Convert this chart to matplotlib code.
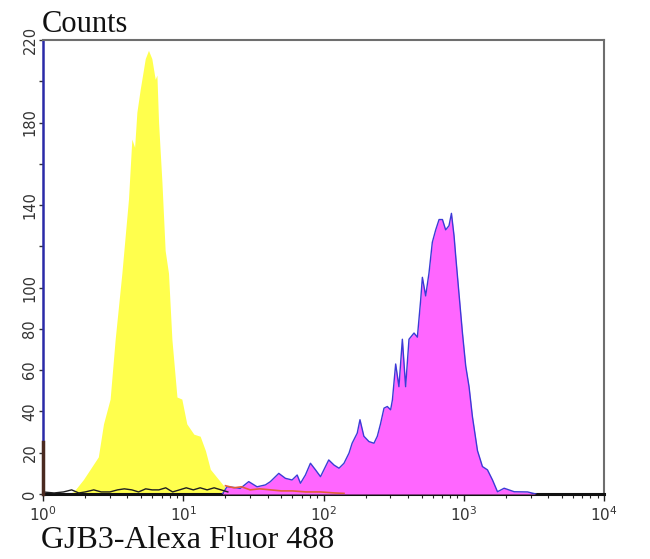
import matplotlib
matplotlib.use("Agg")
import matplotlib.pyplot as plt
import numpy as np

# ---- data ----
yellow_x = [1.40, 1.65, 1.94, 2.17, 2.48, 2.70, 3.01, 3.27, 3.65, 4.07, 4.30, 4.50, 4.67,
            4.93, 5.36, 5.65, 5.97, 6.31, 6.49, 6.67, 7.05, 7.43, 7.85, 8.30, 9.02,
            9.77, 10.6, 11.9, 13.2, 14.4, 15.6, 17.4, 18.9, 20.5, 22.0]
yellow_y = [0, 1, 7, 12, 18, 34, 46, 75, 107, 143, 172, 168, 185,
            196, 211, 215, 211, 201, 203, 180, 151, 118, 107, 75, 47,
            46, 34, 29, 28, 21, 12, 8, 5, 2, 0]

sample_x = [19.0, 20.5, 22.9, 25.5, 29.3, 33.6, 38.5, 41.8, 48.0, 53.5, 59.7, 64.9, 68.5,
            74.3, 80.7, 87.7, 95.2, 109, 119, 129, 140, 152, 160, 174, 182, 194, 211,
            229, 242, 255, 270, 285, 301, 310, 327, 345, 365, 385, 407, 442, 467, 493,
            507, 535, 565, 597, 631, 667, 705, 743, 785, 817, 853, 877, 925, 979, 1033,
            1091, 1153, 1253, 1359, 1476, 1603, 1740, 1941, 2291, 2851, 3268]
sample_y = [0, 3.5, 3.2, 2.7, 6, 3.5, 4.4, 6, 10, 7.6, 6.8, 9.2, 5.2,
            9.2, 14.9, 11.7, 8.4, 16.5, 14, 12.5, 14.9, 19.8, 24.6, 29.5, 36, 28, 25.4,
            24.6, 28, 34, 41.6, 42.4, 40.8, 45.6, 63, 52, 75, 52, 75, 78, 76, 94,
            105, 96, 107, 122, 128, 133, 133, 128, 130, 136, 125, 115, 97, 78, 62,
            52, 37.5, 21, 13.3, 11.7, 6.8, 1.1, 2.8, 1.1, 1, 0]

control_x = [1.0, 1.2, 1.4, 1.6, 1.8, 2.0, 2.3, 2.6, 3.0, 3.4, 3.8, 4.3, 4.8, 5.4, 6.0,
             6.7, 7.5, 8.4, 9.4, 10.5, 11.8, 13.2, 14.8, 16.6, 18.6, 20.8]
control_y = [1, 0.5, 1, 2, 0.5, 1, 2, 1, 1, 2, 2.5, 2, 1, 2.5, 2, 2, 3, 1, 2, 3, 2, 3,
             2, 3, 2, 1]

iso_x = [20, 23, 26, 30, 35, 42, 50, 60, 75, 95, 120, 140]
iso_y = [4, 3, 3.5, 2, 2.5, 2, 1.5, 1.5, 1, 1, 0.5, 0.3]

y_ticks = [0, 20, 40, 60, 80, 100, 120, 140, 160, 180, 200, 220]
y_labels = ["0", "20", "40", "60", "80", "100", "", "140", "", "180", "", "220"]
x_ticks = [1, 10, 100, 1000, 10000]
x_labels = [r"$\mathregular{10^{0}}$", r"$\mathregular{10^{1}}$", r"$\mathregular{10^{2}}$",
            r"$\mathregular{10^{3}}$", r"$\mathregular{10^{4}}$"]

plt.rcParams["mathtext.fontset"] = "custom"
plt.rcParams["mathtext.rm"] = "Liberation Serif"

fig = plt.figure(figsize=(6.5, 5.59), dpi=100)
ax = fig.add_axes([43 / 650, 1 - 494 / 559, 561 / 650, 454 / 559])

ax.fill_between(yellow_x, 0, yellow_y, color="#FFFF4D", linewidth=0, zorder=2)
ax.fill_between(sample_x, 0, sample_y, color="#FF66FF", linewidth=0, zorder=3)
ax.plot(sample_x, sample_y, color="#3B3BD6", linewidth=1.0, zorder=4)
ax.plot(control_x, control_y, color="#202020", linewidth=1.0, zorder=5)
ax.plot(iso_x, iso_y, color="#E0603A", linewidth=1.2, zorder=5)
ax.plot([1.0, 1.0], [0, 25], color="#4a2a20", linewidth=2.5, zorder=6, clip_on=False)

ax.set_xscale("log")
ax.set_xlim(1, 10000)
ax.set_ylim(0, 220)

ax.set_yticks(y_ticks)
ax.set_yticklabels(y_labels, rotation=90, va="center", fontsize=10.5,
                   family="DejaVu Sans", color="#333333")
ax.set_xticks(x_ticks)
ax.set_xticklabels(x_labels, fontsize=11, color="#333333")
ax.tick_params(axis="y", direction="out", length=3, width=1, color="#333333", pad=1)
ax.tick_params(axis="x", which="major", direction="out", length=5, width=1,
               color="#222222", pad=3)
ax.tick_params(axis="x", which="minor", direction="out", length=3, width=0.8,
               color="#222222")

for s in ("top", "right"):
    ax.spines[s].set_color("#6e6e6e")
    ax.spines[s].set_linewidth(1.5)
ax.spines["bottom"].set_color("#111111")
ax.spines["bottom"].set_linewidth(2.2)
ax.spines["left"].set_color("#2a2aa8")
ax.spines["left"].set_linewidth(1.8)

fig.text(42 / 650, 1 - 24 / 559, "Counts", family="Liberation Serif", fontsize=22,
         va="center", ha="left", color="#111111")
fig.text(41 / 650, 1 - 540 / 559, "GJB3-Alexa Fluor 488", family="Liberation Serif",
         fontsize=23, va="center", ha="left", color="#111111")

fig.savefig("out.png", dpi=100)
